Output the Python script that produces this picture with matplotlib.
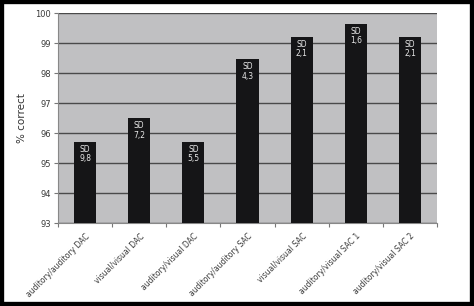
import matplotlib.pyplot as plt
from matplotlib.patches import Rectangle

conditions = ['auditory/auditory DAC', 'visual/visual DAC', 'auditory/visual DAC',
              'auditory/auditory SAC', 'visual/visual SAC', 'auditory/visual SAC 1',
              'auditory/visual SAC 2']
percent_correct = [95.72, 96.5, 95.72, 98.47, 99.22, 99.64, 99.22]
sd_labels = ['9,8', '7,2', '5,5', '4,3', '2,1', '1,6', '2,1']

fig = plt.figure(figsize=(4.74, 3.06), dpi=100)
ax = fig.add_axes([0.1224, 0.270, 0.7996, 0.6865])
ax.set_facecolor('#c0c0c2')

x = range(len(conditions))
ax.bar(x, [v - 93 for v in percent_correct], bottom=93, width=0.41,
       color='#151517', zorder=3)

for i, (v, sd) in enumerate(zip(percent_correct, sd_labels)):
    ax.text(i, v - 0.1, f"SD\n{sd}", ha='center', va='top', color='#e8e8e8',
            fontsize=5.5, linespacing=1.05, zorder=4)

ax.set_ylim(93, 100)
ax.set_xlim(-0.5, len(conditions) - 0.5)
ax.set_yticks(range(93, 101))
ax.yaxis.grid(True, color='#4a4a4a', linewidth=1.0, zorder=1)
ax.set_axisbelow(True)

ax.set_xticks([i + 0.5 for i in range(-1, len(conditions))], minor=False)
ax.set_xticklabels([])
ax.set_xticks(list(x), minor=True)
ax.set_xticklabels(conditions, minor=True, rotation=45, ha='right',
                   rotation_mode='anchor', fontsize=5.5, color='#3a3a3a')
ax.tick_params(axis='x', which='minor', length=0, pad=6)
ax.tick_params(axis='x', which='major', length=3, color='#777777', direction='out')
ax.tick_params(axis='y', length=3, color='#777777', labelsize=6,
               labelcolor='#3a3a3a', pad=2)

for side in ['top', 'right']:
    ax.spines[side].set_visible(False)
for side in ['left', 'bottom']:
    ax.spines[side].set_color('#888888')
    ax.spines[side].set_linewidth(0.8)

ax.set_ylabel('% correct', fontsize=7.5, color='#333333', labelpad=6)

# black frame around the image
fig.patches.append(Rectangle((0, 0), 1, 1, transform=fig.transFigure, fill=False,
                             edgecolor='black', linewidth=6))

fig.savefig('out.png', dpi=100)
